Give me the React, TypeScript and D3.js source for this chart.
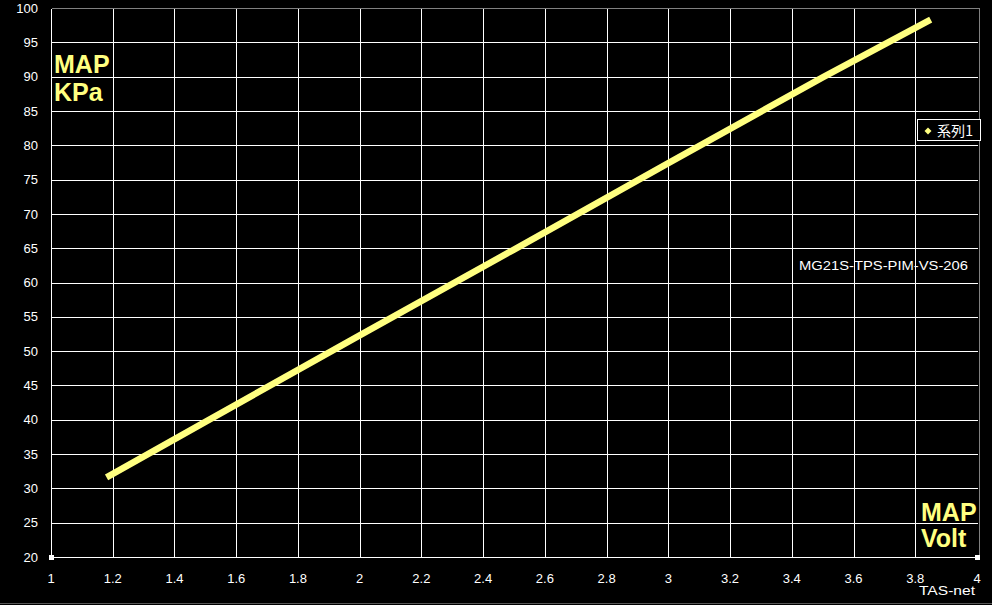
import React from "react";
import * as d3 from "d3";

const volts = [1.18, 1.5, 2.0, 2.5, 3.0, 3.5, 3.85];
const kpa = [31.6, 39.7, 52.3, 64.8, 77.4, 89.9, 98.3];
const xTicks = [1, 1.2, 1.4, 1.6, 1.8, 2, 2.2, 2.4, 2.6, 2.8, 3, 3.2, 3.4, 3.6, 3.8, 4];
const yTicks = [20, 25, 30, 35, 40, 45, 50, 55, 60, 65, 70, 75, 80, 85, 90, 95, 100];
const seriesName = "系列1";
const noteText = "MG21S-TPS-PIM-VS-206";
const footText = "TAS-net";

const W = 992;
const H = 605;
const YELLOW = "#ffff80";
const FONT = "'Liberation Sans', Arial, sans-serif";

export default function App() {
  const x = d3.scaleLinear().domain([1, 4]).range([51, 977]);
  const y = d3.scaleLinear().domain([20, 100]).range([557, 8]);
  const pts = volts.map((v, i) => [v, kpa[i]] as [number, number]);
  const line = d3
    .line<[number, number]>()
    .x((d) => x(d[0]))
    .y((d) => y(d[1]));
  const px = (v: number) => Math.round(x(v)) + 0.5;
  const py = (v: number) => Math.round(y(v)) + 0.5;

  return (
    <div style={{ position: "absolute", left: 0, top: 0 }}>
      <svg width={W} height={H} style={{ display: "block" }} fontFamily={FONT}>
        <rect x={0} y={0} width={W} height={H} fill="#000" />
        <line x1={0} x2={W} y1={603.5} y2={603.5} stroke="#555" strokeWidth={1} />
        {/* grid */}
        <g shapeRendering="crispEdges">
          {xTicks.slice(1, -1).map((t) => (
            <line key={"gx" + t} x1={px(t)} x2={px(t)} y1={py(100)} y2={py(20)} stroke="#fff" strokeWidth={1} />
          ))}
          {yTicks.slice(1, -1).map((t) => (
            <line key={"gy" + t} x1={px(1)} x2={px(4)} y1={py(t)} y2={py(t)} stroke="#fff" strokeWidth={1} />
          ))}
          {/* border top/right grey */}
          <line x1={px(1)} x2={px(4) + 2} y1={py(100)} y2={py(100)} stroke="#808080" strokeWidth={1} />
          <line x1={px(4) + 2} x2={px(4) + 2} y1={py(100)} y2={py(20)} stroke="#808080" strokeWidth={1} />
          {/* axes white */}
          <line x1={px(1)} x2={px(1)} y1={py(100)} y2={py(20)} stroke="#fff" strokeWidth={1} />
          <line x1={px(1)} x2={px(4)} y1={py(20)} y2={py(20)} stroke="#fff" strokeWidth={1} />
          <rect x={px(1) - 3} y={py(20) - 3} width={5} height={5} fill="#fff" />
          <rect x={px(4) - 3} y={py(20) - 3} width={5} height={5} fill="#fff" />
        </g>
        {/* y tick labels */}
        {yTicks.map((t) => (
          <text key={"yl" + t} x={38} y={y(t)} dy="0.36em" textAnchor="end" fill="#fff" fontSize={13}>
            {t}
          </text>
        ))}
        {/* x tick labels */}
        {xTicks.map((t) => (
          <text key={"xl" + t} x={x(t)} y={583} textAnchor="middle" fill="#fff" fontSize={13}>
            {t}
          </text>
        ))}
        {/* series line */}
        <path d={line(pts) || ""} fill="none" stroke={YELLOW} strokeWidth={6.5} />
        {/* axis titles */}
        <g fill={YELLOW} fontWeight="bold" fontSize={25}>
          <text x={54} y={73}>MAP</text>
          <text x={54} y={101}>KPa</text>
          <text x={921} y={521}>MAP</text>
          <text x={921} y={547}>Volt</text>
        </g>
        <text x={799} y={270} fill="#fff" fontSize={12.5} textLength={169} lengthAdjust="spacingAndGlyphs">
          {noteText}
        </text>
        <text x={919} y={595} fill="#fff" fontSize={12.5} textLength={56} lengthAdjust="spacingAndGlyphs">
          {footText}
        </text>
        {/* legend */}
        <rect x={917.5} y={119.5} width={63} height={21} fill="#000" stroke="#fff" strokeWidth={1} />
        <path d="M928,127.5 L931.5,131 L928,134.5 L924.5,131 Z" fill={YELLOW} />
        <text x={937} y={131} dy="0.36em" fill="#fff" fontSize={14} textLength={36} lengthAdjust="spacingAndGlyphs" fontFamily="'Noto Sans CJK JP', sans-serif">
          {seriesName}
        </text>
      </svg>
    </div>
  );
}
